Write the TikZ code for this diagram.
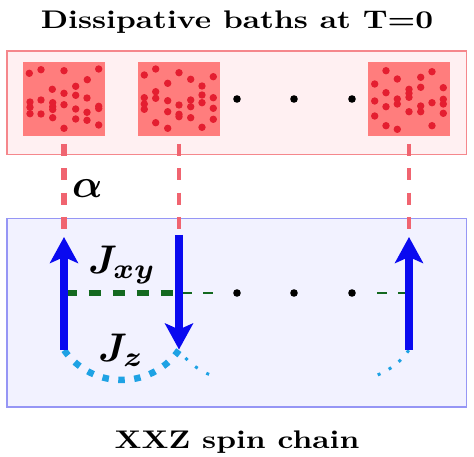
\documentclass[tikz,border=0pt]{standalone}
\usepackage{amsmath}
\usepackage{graphicx}
\usetikzlibrary{arrows.meta}
\definecolor{toppink}{RGB}{255,240,242}
\definecolor{topedge}{RGB}{245,135,140}
\definecolor{bathred}{RGB}{255,125,125}
\definecolor{dotred}{RGB}{228,30,48}
\definecolor{linkred}{RGB}{240,100,112}
\definecolor{chainfill}{RGB}{242,242,255}
\definecolor{chainedge}{RGB}{150,150,245}
\definecolor{spinblue}{RGB}{10,10,240}
\definecolor{xygreen}{RGB}{20,105,32}
\definecolor{zcyan}{RGB}{30,162,228}
\newcommand{\bigtxt}[1]{\scalebox{3.1}[2.55]{\bfseries #1}}
\newcommand{\bigmath}[1]{\scalebox{4}{$\boldsymbol{#1}$}}
\begin{document}
\begin{tikzpicture}[x=1pt,y=-1pt,
  bathbox/.style={fill=bathred,draw=none,minimum width=82pt,minimum height=74pt,inner sep=0pt},
  bathdot/.style={fill=dotred},
  blackdot/.style={fill=black},
  link/.style={draw=linkred,dash pattern=on 12pt off 12.3pt},
  spin/.style={draw=spinblue,line width=7.5pt,-{Stealth[length=26pt,width=28pt,inset=6pt]}},
  xythick/.style={draw=xygreen,line width=5.5pt,dash pattern=on 12.5pt off 11.5pt},
  xythin/.style={draw=xygreen,line width=1.8pt,dash pattern=on 10pt off 11pt},
  zthick/.style={draw=zcyan,line width=6.5pt,dash pattern=on 6.5pt off 9.49pt},
  zthin/.style={draw=zcyan,line width=3pt},
  lbl/.style={inner sep=0pt,anchor=base west}]
\useasboundingbox (0,0) rectangle (474,457);
% titles
\node[anchor=base,inner sep=0pt] (title) at (237,28.5) {\bigtxt{Dissipative baths at T=0}};
\node[anchor=base,inner sep=0pt] (chain) at (237,448) {\bigtxt{XXZ spin chain}};
% panels
\draw[fill=toppink,draw=topedge,line width=1.2pt] (7,51) rectangle (466.5,154.5);
\draw[fill=chainfill,draw=chainedge,line width=1.2pt] (7,218.5) rectangle (466.5,407);
% baths
\node[bathbox] (b1) at (64,99) {};
\node[bathbox] (b2) at (179,99) {};
\node[bathbox] (b3) at (409,99) {};
\foreach \px/\py in {29.3/73.3,41/69.7,64/70.7,98.7/69,87.3/79.7,75.7/86.3,52.3/89.3,64/93.3,75.7/95.3,87/98,30/102,41/100,52.7/102.7,64/104.7,75.7/109,87/112.3,98.7/106.3,98.7/108.5,30/107.3,30/113.7,41/114,52.7/106.7,52.7/109.5,52.7/117.7,75.7/119,87/120.3,64/128.3,98.7/125,
144.3/75,155.7/69,167.7/83.3,179/72.7,190.7/79.3,213.3/76.7,202/86,155.7/91.7,155.7/98.3,144.3/97.7,144.3/104,144.3/109.3,167.7/100.7,167.7/111.7,179/105,179/114.3,179/116.7,190.7/100,190.7/106.7,190.7/117.7,202/95,202/102.7,213.3/97.7,213.3/108.3,213.3/119.3,155.7/122.7,167.7/128.3,202/127.3,
386/70.7,397.3/79,420.7/77.3,432/71.7,374.7/84,386/92.7,409/89.3,409/93.3,420.7/87.3,443.3/87.7,374.7/101,397.3/99,397.3/104,409/97.3,420.7/106,432/102.7,443.3/99.3,443.3/104,386/106.7,420.7/111.7,409/111.7,443.3/113.3,374.7/116,386/125.7,397.3/129.3,432/125.7}
  \fill[bathdot] (\px,\py) circle[radius=3.7pt];
\foreach \k/\px in {1/237,2/294,3/352} \fill[blackdot] (\px,99) circle[radius=3.8pt] coordinate (tdot\k);
% spin end points
\coordinate (s1top) at (64,237);  \coordinate (s1bot) at (64,350);
\coordinate (s2top) at (179,235); \coordinate (s2bot) at (179,349.5);
\coordinate (s3top) at (409,237); \coordinate (s3bot) at (409,350);
\coordinate (l1a) at (64,144);  \coordinate (l1b) at (64,229.5);
\coordinate (l2a) at (179,144); \coordinate (l2b) at (179,229.5);
\coordinate (l3a) at (409,144); \coordinate (l3b) at (409,229.5);
% bath couplings
\draw[link,line width=6pt] (l1a) -- (l1b);
\draw[link,line width=3.8pt] (l2a) -- (l2b);
\draw[link,line width=3.8pt] (l3a) -- (l3b);
% xy coupling
\coordinate (g1) at (64.5,293); \coordinate (g2) at (176,293);
\coordinate (g3) at (182,293); \coordinate (g4) at (214,293);
\coordinate (g5) at (377,293); \coordinate (g6) at (409,293);
\draw[xythick] (g1) -- (g2);
\draw[xythin] (g3) -- (g4);
\draw[xythin] (g5) -- (g6);
\foreach \k/\px in {1/237,2/294,3/352} \fill[blackdot] (\px,293) circle[radius=3.8pt] coordinate (mdot\k);
% z coupling
\draw[zthick] plot[domain=-55:55,samples=80] ({121.5+70*sin(\x)},{310+70*cos(\x)});
\draw[zthin,dash pattern=on 3pt off 10pt,dash phase=3pt] plot[domain=-55:-22,samples=30] ({236.5+70*sin(\x)},{310+70*cos(\x)});
\draw[zthin,dash pattern=on 3pt off 9.4pt] plot[domain=22:55,samples=30] ({351.5+70*sin(\x)},{310+70*cos(\x)});
% spins
\draw[spin] (s1bot) -- (s1top);
\draw[spin] (s2top) -- (s2bot);
\draw[spin] (s3bot) -- (s3top);
% labels
\node[lbl] (alpha) at (72,198) {\bigmath{\alpha}};
\node[lbl] (jxy) at (88,273) {\bigmath{J_{xy}}};
\node[lbl] (jz) at (98,361) {\bigmath{J_z}};
\end{tikzpicture}
\end{document}
